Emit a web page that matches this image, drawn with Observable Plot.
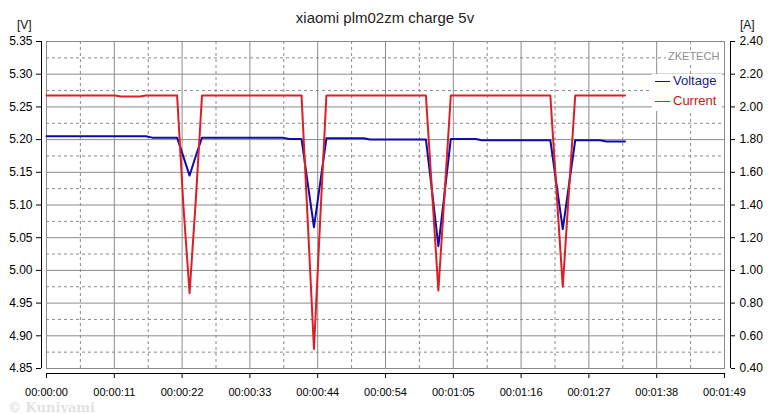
<!DOCTYPE html>
<html>
<head>
<meta charset="utf-8">
<script src="https://cdn.jsdelivr.net/npm/d3@7"></script>
<script src="https://cdn.jsdelivr.net/npm/@observablehq/plot@0.6"></script>
<style>
  html, body { margin: 0; padding: 0; background: #fff; }
  #wrap { position: relative; width: 774px; height: 414px; font-family: "Liberation Sans", Arial, sans-serif; overflow: hidden; }
  #wrap svg { position: absolute; left: 0; top: 0; }
  .ov { position: absolute; white-space: nowrap; line-height: 1; }
  #title { left: 0; width: 770px; text-align: center; top: 10px; font-size: 15px; color: #222; }
  #unitV { left: 17px; top: 19px; font-size: 12px; color: #111; }
  #unitA { left: 740px; top: 19px; font-size: 12px; color: #111; }
  #zk { left: 666px; top: 51px; font-size: 11px; color: #8e8e8e; background: #fff; padding: 0 2px; }
  #legend { left: 652px; top: 74px; width: 70px; height: 37px; background: #fff; }
  .li { position: absolute; left: 3px; font-size: 13px; }
  .li span.sw { display: inline-block; width: 15px; height: 0; border-top: 1.5px solid; vertical-align: middle; margin-right: 3px; }
  #wm { left: 8px; top: 401px; font-size: 13px; font-family: "DejaVu Serif", serif; font-weight: bold; color: rgba(200,200,200,0.55); }
</style>
</head>
<body>
<div id="wrap"></div>
<script>
// ---- data ----
const chartTitle = "xiaomi plm02zm charge 5v";
const times   = [0, 11, 12, 15, 16, 17, 21, 22, 23, 24, 25, 38, 39, 41, 42, 43, 44, 45, 51, 52, 61, 62, 63, 64, 65, 69, 70, 81, 82, 83, 84, 85, 89, 90, 93];
const voltage = [5.205, 5.205, 5.205, 5.205, 5.205, 5.203, 5.203, 5.174, 5.145, 5.175, 5.203, 5.203, 5.201, 5.201, 5.133, 5.066, 5.134, 5.202, 5.202, 5.200, 5.200, 5.120, 5.037, 5.118, 5.201, 5.201, 5.199, 5.199, 5.131, 5.063, 5.131, 5.199, 5.199, 5.197, 5.197];
const current = [2.070, 2.070, 2.064, 2.064, 2.070, 2.070, 2.070, 1.40, 0.86, 1.43, 2.070, 2.070, 2.070, 2.070, 1.30, 0.52, 1.31, 2.070, 2.070, 2.070, 2.070, 1.47, 0.877, 1.47, 2.070, 2.070, 2.070, 2.070, 1.48, 0.90, 1.49, 2.070, 2.070, 2.070, 2.070];
const xTickLabels = ["00:00:00", "00:00:11", "00:00:22", "00:00:33", "00:00:44", "00:00:54", "00:01:05", "00:01:16", "00:01:27", "00:01:38", "00:01:49"];
const vTickLabels = ["4.85", "4.90", "4.95", "5.00", "5.05", "5.10", "5.15", "5.20", "5.25", "5.30", "5.35"];
const aTickLabels = ["0.40", "0.60", "0.80", "1.00", "1.20", "1.40", "1.60", "1.80", "2.00", "2.20", "2.40"];
const seriesNames = ["Voltage", "Current"];
const seriesColors = ["#0c0caa", "#dc1e26"];

// ---- scales setup ----
const tMax = 109;
const vMin = 4.85, vMax = 5.35, aMin = 0.40, aMax = 2.40;
const toV = a => vMin + (a - aMin) * (vMax - vMin) / (aMax - aMin);
const rows = times.map((t, k) => ({t, v: voltage[k], a: current[k]}));

const xTicks = xTickLabels.map((_, i) => i * tMax / (xTickLabels.length - 1));
const xMid = xTicks.slice(0, -1).map((d, i) => (d + xTicks[i + 1]) / 2);
const yTicks = vTickLabels.map(Number);
const yMid = yTicks.slice(0, -1).map((d, i) => (d + yTicks[i + 1]) / 2);
const aTicks = aTickLabels.map(s => toV(+s));

const grid = "#8a8a8a";
const chart = Plot.plot({
  width: 774, height: 414,
  marginLeft: 46, marginRight: 50, marginTop: 41, marginBottom: 46,
  x: {domain: [0, tMax]},
  y: {domain: [vMin, vMax]},
  style: {fontFamily: "Liberation Sans, Arial, sans-serif", fontSize: "12px", background: "white", color: "black", overflow: "visible"},
  marks: [
    Plot.ruleY(yMid, {stroke: grid, strokeDasharray: "3,3"}),
    Plot.ruleX(xMid, {stroke: grid, strokeDasharray: "3,3"}),
    Plot.ruleY(yTicks, {stroke: grid}),
    Plot.ruleX(xTicks, {stroke: grid}),
    Plot.frame({stroke: grid}),
    // left axis
    Plot.ruleX([0], {dx: -5, stroke: "black"}),
    Plot.axisY({anchor: "left", ticks: yTicks, tickFormat: d => vTickLabels[yTicks.indexOf(d)], dx: -5, tickSize: 5, tickPadding: 4, label: null, fontSize: 12}),
    // right axis
    Plot.ruleX([tMax], {dx: 6, stroke: "black"}),
    Plot.axisY({anchor: "right", ticks: aTicks, tickFormat: d => aTickLabels[aTicks.indexOf(d)], dx: 6, tickSize: 4, tickPadding: 5, label: null, fontSize: 12}),
    // bottom axis
    Plot.ruleY([vMin], {dy: 5, stroke: "black"}),
    Plot.axisX({anchor: "bottom", ticks: xTicks, tickFormat: d => xTickLabels[xTicks.indexOf(d)], dy: 5, tickSize: 5, tickPadding: 10, label: null, fontSize: 11}),
    // series
    Plot.line(rows, {x: "t", y: "v", stroke: seriesColors[0], strokeWidth: 2}),
    Plot.line(rows, {x: "t", y: d => toV(d.a), stroke: seriesColors[1], strokeWidth: 2})
  ]
});

const wrap = document.getElementById("wrap");
wrap.appendChild(chart);

function addDiv(id, html) {
  const d = document.createElement("div");
  d.className = "ov"; d.id = id; d.innerHTML = html;
  wrap.appendChild(d);
  return d;
}
addDiv("title", chartTitle);
addDiv("unitV", "[V]");
addDiv("unitA", "[A]");
addDiv("zk", "ZKETECH");
const lg = addDiv("legend", "");
seriesNames.forEach((n, i) => {
  const it = document.createElement("div");
  it.className = "li";
  it.style.top = (i * 20) + "px";
  it.style.color = i === 0 ? "#1c1c8c" : "#c81414";
  it.innerHTML = `<span class="sw" style="border-color:${seriesColors[i]}"></span>${n}`;
  lg.appendChild(it);
});
addDiv("wm", "© Kuniyami");
</script>
</body>
</html>
